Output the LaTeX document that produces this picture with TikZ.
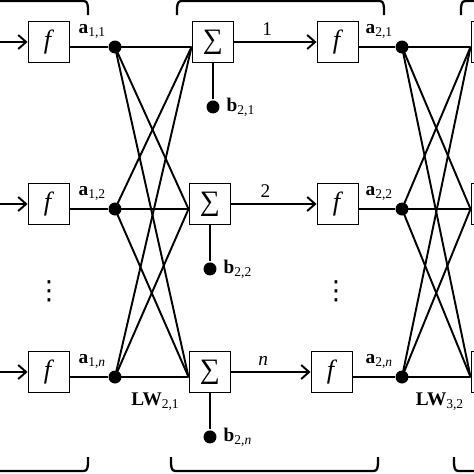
\documentclass[tikz,border=0pt]{standalone}
\usepackage{fontspec}
\setmainfont{Liberation Serif}
\newfontfamily\dotsfont{DejaVu Sans}
\usetikzlibrary{positioning,arrows.meta}

\begin{document}
\begin{tikzpicture}[x=0.02cm,y=-0.02cm,line width=1.1pt,font=\fontsize{11}{13}\selectfont]
		\tikzset{box/.style = {draw, minimum size=0.82cm, inner sep=0pt}}
		\tikzset{dot/.style = {circle, fill, inner sep=0pt, minimum size=0.26cm}}
		\tikzset{feed/.style = {draw, -{Straight Barb[length=4.5pt,width=8pt]}}}
		\tikzset{brace/.style = {draw, line width=1.3pt}}
		\tikzset{sublabel/.style = {inner sep=1.5pt}}
		\useasboundingbox (0,0) rectangle (474,474);
		\clip (0,0) rectangle (474,474);
		
		% nodes of the three rows
		\foreach \r/\y/\lab/\sx/\fx in {1/42/1/213/338, 2/204/2/210/338, 3/372/{\textit{n}}/210/332} {
			\coordinate (in\r) at (0,\y);
			\node[box] (fa\r) at (49,\y) {\fontsize{15}{15}\selectfont\textit{f}};
			\node[dot, label={[sublabel]above left:\textbf{a}\textsubscript{1,\lab}}] (a1\r) at (115,\y+5) {};
			\node[box] (s\r) at (\sx,\y) {\fontsize{16}{16}\selectfont∑};
			\coordinate (sin\r) at ([yshift=-0.1cm]s\r.west);
			\node[dot, below=0.72cm of s\r, label={[inner sep=3pt]right:\textbf{b}\textsubscript{2,\lab}}] (b\r) {};
			\node[box] (fb\r) at (\fx,\y) {\fontsize{15}{15}\selectfont\textit{f}};
			\node[dot, label={[sublabel]above left:\textbf{a}\textsubscript{2,\lab}}] (a2\r) at (402,\y+5) {};
			\node[box] (t\r) at (492,\y) {};
			\coordinate (tin\r) at ([yshift=-0.1cm]t\r.west);
			
			% row connectors
			\draw[feed] (in\r) -- (fa\r);
			\draw (fa\r.east |- a1\r) -- (a1\r);
			\draw (s\r) -- (b\r);
			\draw[feed] (s\r) -- node[above, pos=0.4]{\lab} (fb\r);
			\draw (fb\r.east |- a2\r) -- (a2\r);
		}
		
		% fully connected layers
		\foreach \i in {1,2,3}
			\foreach \j in {1,2,3} {
				\draw (a1\i.center) -- (sin\j);
				\draw (a2\i.center) -- (tin\j);
			}
		
		% weight labels
		\path (a13) -- node[below=5pt]{\textbf{LW}\textsubscript{2,1}} (sin3);
		\path (a23) -- node[below=5pt]{\textbf{LW}\textsubscript{3,2}} (tin3);
		
		% ellipsis
		\node (vd1) at (49,291) {\dotsfont\fontsize{15}{15}\selectfont ⋮};
		\node (vd2) at (336,291) {\dotsfont\fontsize{15}{15}\selectfont ⋮};
		
		% braces, cut off at the edges
		\draw[brace] (0,1) -- (80,1) .. controls (87,1) .. (88,8) -- (88,15);
		\draw[brace] (177,15) -- (177,8) .. controls (178,1) .. (185,1) -- (376,1) .. controls (383,1) .. (384,8) -- (384,15);
		\draw[brace] (461,15) -- (461,8) .. controls (462,1) .. (469,1) -- (474,1);
		\draw[brace] (0,471) -- (80,471) .. controls (87,471) .. (88,464) -- (88,457);
		\draw[brace] (171,457) -- (171,464) .. controls (172,471) .. (179,471) -- (370,471) .. controls (377,471) .. (378,464) -- (378,457);
		\draw[brace] (454,457) -- (454,464) .. controls (455,471) .. (462,471) -- (474,471);
\end{tikzpicture}
\end{document}
